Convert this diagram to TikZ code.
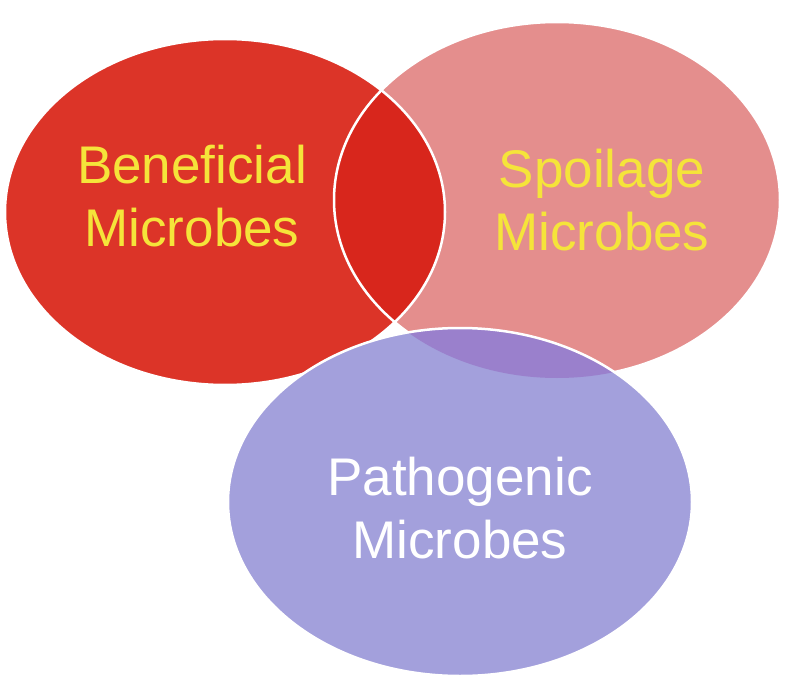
\documentclass[tikz,border=0pt]{standalone}
\usepackage{fontspec}
\setmainfont{Liberation Sans}
\begin{document}
\begin{tikzpicture}[x=1pt,y=-1pt,
  lbl/.style={align=center,font=\fontsize{53}{63}\selectfont},
  rim/.style={draw=white,line width=2.5pt}]
\useasboundingbox (0,0) rectangle (785,682);
\fill[fill={rgb,255:red,220;green,52;blue,40}] (225,212) ellipse [x radius=220,y radius=173];
\fill[fill={rgb,255:red,228;green,142;blue,141}] (557,200) ellipse [x radius=223,y radius=178];
\begin{scope}
\clip (225,212) ellipse [x radius=220,y radius=173];
\fill[fill={rgb,255:red,216;green,38;blue,28}] (557,200) ellipse [x radius=223,y radius=178];
\end{scope}
\draw[rim] (225,212) ellipse [x radius=220,y radius=173];
\draw[rim] (557,200) ellipse [x radius=223,y radius=178];
\fill[fill={rgb,255:red,163;green,160;blue,220}] (460,502) ellipse [x radius=232,y radius=174];
\begin{scope}
\clip (557,200) ellipse [x radius=223,y radius=178];
\fill[fill={rgb,255:red,154;green,128;blue,204}] (460,502) ellipse [x radius=232,y radius=174];
\end{scope}
\draw[rim] (460,502) ellipse [x radius=232,y radius=174];
\node[lbl,text={rgb,255:red,245;green,228;blue,58}] (b) at (192,196) {Beneficial\\Microbes};
\node[lbl,text={rgb,255:red,245;green,228;blue,58}] (s) at (602,200) {Spoilage\\Microbes};
\node[lbl,text=white] (p) at (460,508) {Pathogenic\\Microbes};
\end{tikzpicture}
\end{document}
